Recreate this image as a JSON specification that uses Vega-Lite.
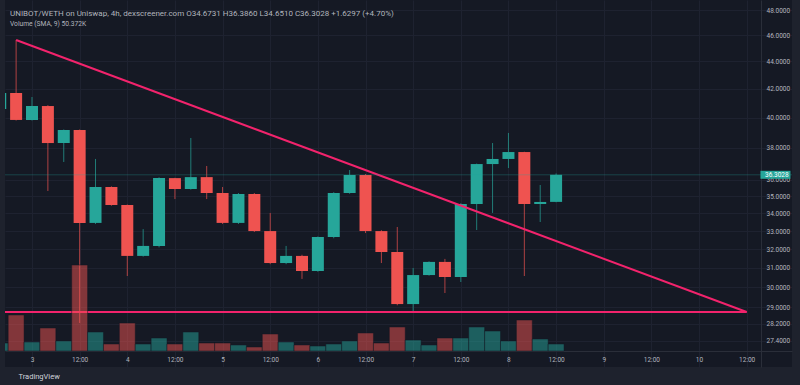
{
  "$schema": "https://vega.github.io/schema/vega-lite/v6.json",
  "width": 787,
  "height": 367,
  "autosize": {"type": "none"},
  "padding": {"left": 5, "top": 0, "right": 8, "bottom": 18},
  "background": "#1e222d",
  "view": {"fill": "#151924", "stroke": null},
  "config": {"font": "Roboto"},
  "title": {
    "text": "UNIBOT/WETH on Uniswap, 4h, dexscreener.com O34.6731 H36.3860 L34.6510 C36.3028 +1.6297 (+4.70%)",
    "subtitle": "Volume (SMA, 9) 50.372K",
    "anchor": "start",
    "frame": "group",
    "offset": -28,
    "dx": 5,
    "fontSize": 8,
    "fontWeight": "normal",
    "color": "#b2b5be",
    "subtitleFontSize": 6.7,
    "subtitleColor": "#b2b5be",
    "subtitlePadding": 3
  },
  "datasets": {
    "candles": [
      {"t": "2023-08-02T16:00:00Z", "open": 40.58, "high": 41.9, "low": 40.4, "close": 41.7, "volume": 26.7},
      {"t": "2023-08-02T20:00:00Z", "open": 41.7, "high": 45.62, "low": 39.8, "close": 39.84, "volume": 120},
      {"t": "2023-08-03T00:00:00Z", "open": 39.84, "high": 41.42, "low": 39.8, "close": 40.79, "volume": 30},
      {"t": "2023-08-03T04:00:00Z", "open": 40.79, "high": 40.85, "low": 35.32, "close": 38.31, "volume": 76.7},
      {"t": "2023-08-03T08:00:00Z", "open": 38.31, "high": 39.2, "low": 37.1, "close": 39.17, "volume": 33.3},
      {"t": "2023-08-03T12:00:00Z", "open": 39.17, "high": 39.2, "low": 28.24, "close": 33.46, "volume": 286.7},
      {"t": "2023-08-03T16:00:00Z", "open": 33.46, "high": 37.29, "low": 33.4, "close": 35.56, "volume": 63.3},
      {"t": "2023-08-03T20:00:00Z", "open": 35.56, "high": 35.6, "low": 34.45, "close": 34.49, "volume": 23.3},
      {"t": "2023-08-04T00:00:00Z", "open": 34.49, "high": 34.52, "low": 30.58, "close": 31.64, "volume": 93.3},
      {"t": "2023-08-04T04:00:00Z", "open": 31.64, "high": 33.11, "low": 31.6, "close": 32.18, "volume": 23.3},
      {"t": "2023-08-04T08:00:00Z", "open": 32.18, "high": 36.15, "low": 32.1, "close": 36.1, "volume": 43.3},
      {"t": "2023-08-04T12:00:00Z", "open": 36.1, "high": 36.12, "low": 34.84, "close": 35.44, "volume": 23.3},
      {"t": "2023-08-04T16:00:00Z", "open": 35.44, "high": 38.64, "low": 35.4, "close": 36.16, "volume": 63.3},
      {"t": "2023-08-04T20:00:00Z", "open": 36.16, "high": 36.85, "low": 34.84, "close": 35.2, "volume": 26.7},
      {"t": "2023-08-05T00:00:00Z", "open": 35.2, "high": 35.56, "low": 33.4, "close": 33.46, "volume": 26.7},
      {"t": "2023-08-05T04:00:00Z", "open": 33.46, "high": 35.2, "low": 33.4, "close": 35.14, "volume": 20},
      {"t": "2023-08-05T08:00:00Z", "open": 35.14, "high": 35.2, "low": 32.95, "close": 33.0, "volume": 13.3},
      {"t": "2023-08-05T12:00:00Z", "open": 33.0, "high": 34.03, "low": 31.2, "close": 31.26, "volume": 56.7},
      {"t": "2023-08-05T16:00:00Z", "open": 31.26, "high": 32.18, "low": 31.2, "close": 31.64, "volume": 30},
      {"t": "2023-08-05T20:00:00Z", "open": 31.64, "high": 31.7, "low": 30.43, "close": 30.84, "volume": 20},
      {"t": "2023-08-06T00:00:00Z", "open": 30.84, "high": 32.7, "low": 30.8, "close": 32.67, "volume": 16.7},
      {"t": "2023-08-06T04:00:00Z", "open": 32.67, "high": 35.25, "low": 32.6, "close": 35.2, "volume": 23.3},
      {"t": "2023-08-06T08:00:00Z", "open": 35.2, "high": 36.6, "low": 35.15, "close": 36.29, "volume": 33.3},
      {"t": "2023-08-06T12:00:00Z", "open": 36.29, "high": 36.35, "low": 32.89, "close": 33.0, "volume": 60},
      {"t": "2023-08-06T16:00:00Z", "open": 33.0, "high": 33.05, "low": 31.26, "close": 31.85, "volume": 26.7},
      {"t": "2023-08-06T20:00:00Z", "open": 31.85, "high": 33.23, "low": 29.1, "close": 29.16, "volume": 80},
      {"t": "2023-08-07T00:00:00Z", "open": 29.16, "high": 31.0, "low": 28.77, "close": 30.63, "volume": 36.7},
      {"t": "2023-08-07T04:00:00Z", "open": 30.63, "high": 31.35, "low": 30.6, "close": 31.32, "volume": 20},
      {"t": "2023-08-07T08:00:00Z", "open": 31.32, "high": 31.48, "low": 29.71, "close": 30.53, "volume": 43.3},
      {"t": "2023-08-07T12:00:00Z", "open": 30.53, "high": 34.6, "low": 30.27, "close": 34.55, "volume": 43.3},
      {"t": "2023-08-07T16:00:00Z", "open": 34.55, "high": 37.0, "low": 33.06, "close": 36.97, "volume": 80},
      {"t": "2023-08-07T20:00:00Z", "open": 36.97, "high": 38.31, "low": 34.03, "close": 37.29, "volume": 66.7},
      {"t": "2023-08-08T00:00:00Z", "open": 37.29, "high": 38.97, "low": 36.72, "close": 37.73, "volume": 33.3},
      {"t": "2023-08-08T04:00:00Z", "open": 37.73, "high": 37.75, "low": 30.58, "close": 34.55, "volume": 103.3},
      {"t": "2023-08-08T08:00:00Z", "open": 34.55, "high": 35.68, "low": 33.51, "close": 34.67, "volume": 40},
      {"t": "2023-08-08T12:00:00Z", "open": 34.6731, "high": 36.386, "low": 34.651, "close": 36.3028, "volume": 23.3}
    ],
    "trendlines": [
      {"line": "resistance", "t": "2023-08-02T20:00:00Z", "p": 45.62},
      {"line": "resistance", "t": "2023-08-10T12:00:00Z", "p": 28.77},
      {"line": "support", "t": "2023-08-02T08:00:00Z", "p": 28.77},
      {"line": "support", "t": "2023-08-10T12:00:00Z", "p": 28.77}
    ]
  },
  "layer": [
    {
      "layer": [
        {
          "data": {"name": "candles"},
          "mark": {"type": "rule", "strokeWidth": 1, "opacity": 0.7, "clip": true},
          "encoding": {
            "x": {
              "field": "t",
              "type": "temporal",
              "scale": {"type": "utc", "domain": [1690996320000, 1691709900000], "padding": 0},
              "axis": {
                "orient": "bottom",
                "offset": -16,
                "values": [1691020800000, 1691064000000, 1691107200000, 1691150400000, 1691193600000, 1691236800000, 1691280000000, 1691323200000, 1691366400000, 1691409600000, 1691452800000, 1691496000000, 1691539200000, 1691582400000, 1691625600000, 1691668800000],
                "labelExpr": "utchours(datum.value) == 0 ? utcFormat(datum.value, '%-d') : '12:00'",
                "grid": true,
                "gridColor": "#1e2230",
                "ticks": false,
                "domainColor": "#2a2e39",
                "labelColor": "#b2b5be",
                "labelFontSize": 6.5,
                "labelPadding": 5,
                "labelFlush": false,
                "labelOverlap": false,
                "title": "TradingView",
                "titleAnchor": "start",
                "titleAlign": "left",
                "titleX": 13,
                "titleY": 25,
                "titleBaseline": "middle",
                "titleFontSize": 7.5,
                "titleFontWeight": "normal",
                "titleColor": "#d1d4dc"
              }
            },
            "y": {
              "field": "low",
              "type": "quantitative",
              "scale": {"type": "log", "domain": [26.21, 48.8205], "nice": false, "zero": false, "padding": 0},
              "axis": {
                "orient": "right",
                "offset": -31,
                "values": [27.4, 28.2, 29, 30, 31, 32, 33, 34, 35, 36, 38, 40, 42, 44, 46, 48],
                "format": ".4f",
                "grid": true,
                "gridColor": "#1e2230",
                "ticks": false,
                "domainColor": "#2a2e39",
                "labelColor": "#b2b5be",
                "labelFontSize": 6.5,
                "labelPadding": 5,
                "labelFlush": false,
                "labelOverlap": false,
                "title": null
              }
            },
            "y2": {"field": "high"},
            "color": {"condition": {"test": "datum.close >= datum.open", "value": "#26a69a"}, "value": "#ef5350"}
          }
        },
        {
          "data": {"name": "candles"},
          "mark": {"type": "bar", "size": 12, "clip": true},
          "encoding": {
            "x": {"field": "t", "type": "temporal"},
            "y": {"field": "open", "type": "quantitative", "title": null},
            "y2": {"field": "close"},
            "color": {"condition": {"test": "datum.close >= datum.open", "value": "#26a69a"}, "value": "#ef5350"}
          }
        },
        {
          "data": {"name": "trendlines"},
          "mark": {"type": "line", "color": "#f2236c", "strokeWidth": 2, "clip": true},
          "encoding": {
            "x": {"field": "t", "type": "temporal"},
            "y": {"field": "p", "type": "quantitative", "title": null},
            "detail": {"field": "line"}
          }
        },
        {
          "data": {"name": "candles"},
          "transform": [{"filter": "datum.close == 36.3028"}],
          "mark": {"type": "rule", "color": "#26a69a", "opacity": 0.3, "strokeWidth": 1, "clip": true},
          "encoding": {
            "y": {"field": "close", "type": "quantitative", "title": null}
          }
        },
        {
          "data": {"name": "candles"},
          "transform": [{"filter": "datum.close == 36.3028"}],
          "mark": {"type": "tick", "orient": "horizontal", "size": 30, "thickness": 8, "color": "#26a69a", "opacity": 1, "clip": true},
          "encoding": {
            "x": {"datum": 1691694900000, "type": "temporal"},
            "y": {"field": "close", "type": "quantitative", "title": null}
          }
        },
        {
          "data": {"name": "candles"},
          "transform": [{"filter": "datum.close == 36.3028"}],
          "mark": {"type": "text", "align": "left", "baseline": "middle", "fontSize": 6.5, "color": "#ffffff", "clip": true},
          "encoding": {
            "x": {"datum": 1691685420000, "type": "temporal"},
            "y": {"field": "close", "type": "quantitative", "title": null},
            "text": {"field": "close", "type": "quantitative", "format": ".4f"}
          }
        }
      ]
    },
    {
      "data": {"name": "candles"},
      "mark": {"type": "bar", "size": 15.9, "fillOpacity": 0.5, "stroke": "#151924", "strokeWidth": 0.5, "clip": true},
      "encoding": {
        "x": {"field": "t", "type": "temporal"},
        "y": {"field": "volume", "type": "quantitative", "scale": {"domain": [-53.3, 1170], "nice": false, "zero": false}, "axis": null},
        "color": {"condition": {"test": "datum.close >= datum.open", "value": "#26a69a"}, "value": "#ef5350"}
      }
    }
  ],
  "resolve": {"scale": {"y": "independent"}}
}
